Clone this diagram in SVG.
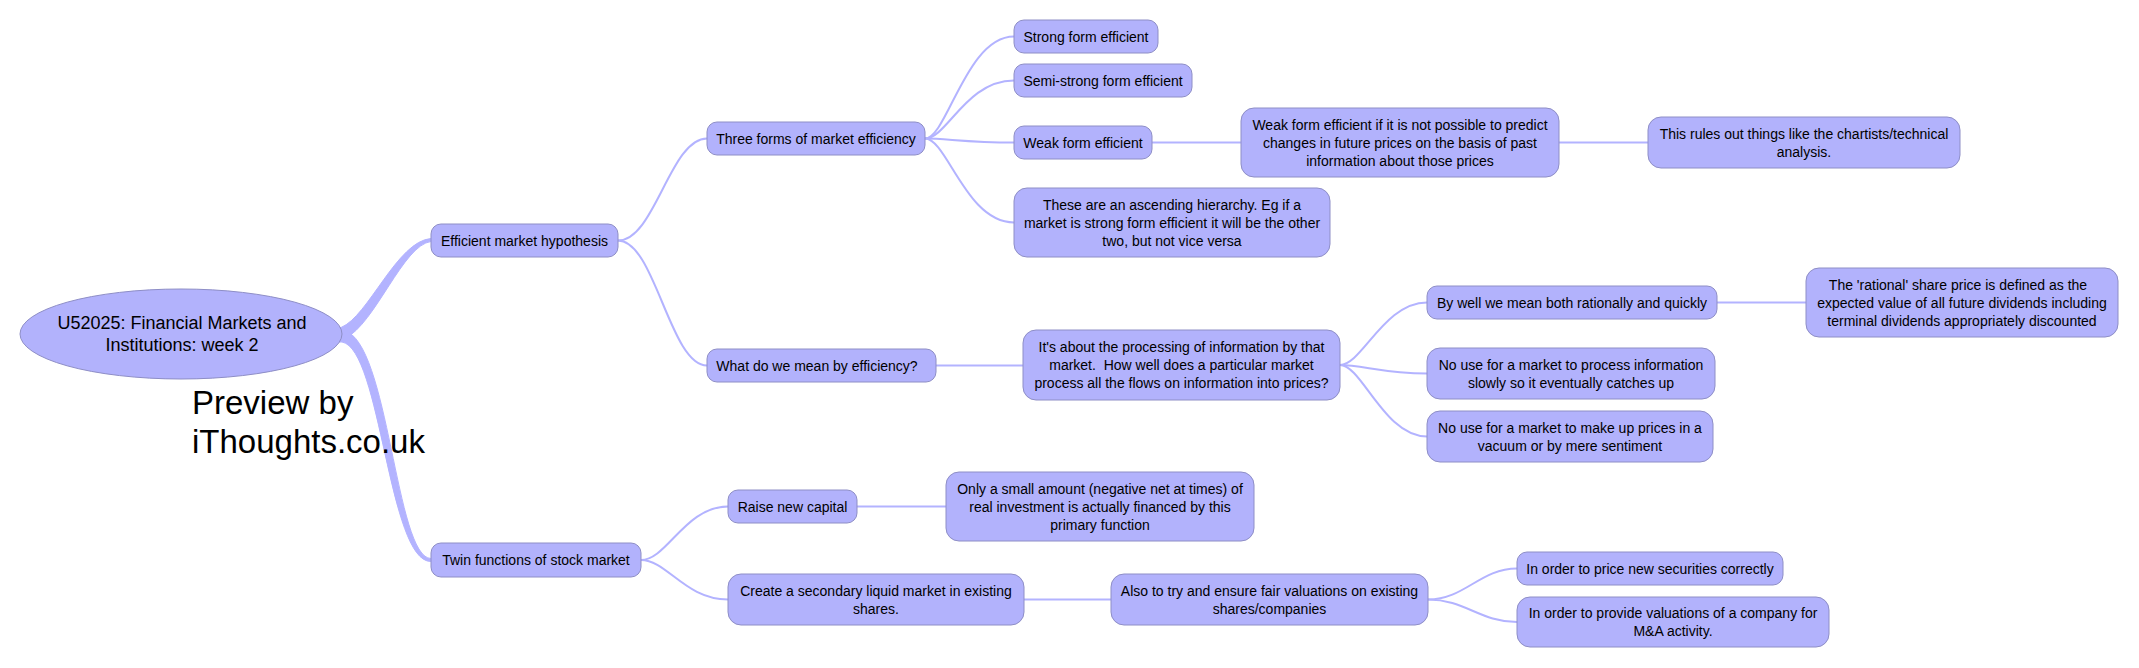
<svg xmlns="http://www.w3.org/2000/svg" width="2139" height="668" viewBox="0 0 2139 668">
<style>
.node rect, .node ellipse { fill:#b2b2fc; stroke:#8e8ec6; stroke-width:1; }
.node text { font-family:"Liberation Sans", Arial, Helvetica, sans-serif; font-size:14px; fill:#000; text-anchor:middle; }
.node.root text { font-size:18px; }
.conn { fill:none; stroke:#b3b3ff; stroke-width:2; }
.band { fill:#b3b3ff; stroke:#b3b3ff; stroke-width:1; stroke-linejoin:round; }
.wm { font-family:"Liberation Sans", Arial, Helvetica, sans-serif; font-size:33px; fill:#000; }
</style>
<rect width="2139" height="668" fill="#fff"/>
<g id="connectors">
  <path class="band" d="M336,327 L341,327.5 C368.5,316.5 397,241 431,238.5 L431,241.5 C403,245 375.5,323.5 345,338.5 L336,339 Z"/>
  <path class="band" d="M336,331 L344,330.5 C389,341 395.5,558 431,558.5 L431,561.5 C388.5,562 381,349 342,342 L336,342 Z"/>
  <path class="conn" d="M618,240.5 C655,240.5 670,138.5 707,138.5"/>
  <path class="conn" d="M618,240.5 C655,240.5 670,365.5 707,365.5"/>
  <path class="conn" d="M925,138.5 C947,138.5 966,36.5 1014,36.5"/>
  <path class="conn" d="M925,138.5 C947,138.5 966,80.5 1014,80.5"/>
  <path class="conn" d="M925,138.5 C947,138.5 966,142.5 1014,142.5"/>
  <path class="conn" d="M925,138.5 C947,138.5 966,222.5 1014,222.5"/>
  <path class="conn" d="M1152,142.5 L1241,142.5"/>
  <path class="conn" d="M1559,142.5 L1648,142.5"/>
  <path class="conn" d="M936,365.5 L1023,365.5"/>
  <path class="conn" d="M1340,365 C1362,365 1384,302.5 1427,302.5"/>
  <path class="conn" d="M1340,365 C1362,365 1384,373.5 1427,373.5"/>
  <path class="conn" d="M1340,365 C1362,365 1384,436.5 1427,436.5"/>
  <path class="conn" d="M1717,302.5 L1806,302.5"/>
  <path class="conn" d="M641,560 C667,560 685,506.5 728,506.5"/>
  <path class="conn" d="M641,560 C667,560 685,599.5 728,599.5"/>
  <path class="conn" d="M857,506.5 L946,506.5"/>
  <path class="conn" d="M1024,599.5 L1111,599.5"/>
  <path class="conn" d="M1428,599.5 C1465,599.5 1480,568.5 1517,568.5"/>
  <path class="conn" d="M1428,599.5 C1465,599.5 1480,622 1517,622"/>
</g>
<g id="root" class="node root">
  <ellipse cx="181" cy="334" rx="161" ry="45"/>
  <text x="182" y="329">U52025: Financial Markets and</text>
  <text x="182" y="351">Institutions: week 2</text>
</g>
<g id="efficient" class="node">
  <rect x="431" y="224" width="187" height="33" rx="10"/>
  <text x="524.5" y="245.5">Efficient market hypothesis</text>
</g>
<g id="twin" class="node">
  <rect x="431" y="543" width="210" height="34" rx="10"/>
  <text x="536" y="565">Twin functions of stock market</text>
</g>
<g id="three-forms" class="node">
  <rect x="707" y="122" width="218" height="33" rx="10"/>
  <text x="816" y="143.5">Three forms of market efficiency</text>
</g>
<g id="strong" class="node">
  <rect x="1014" y="20" width="144" height="33" rx="10"/>
  <text x="1086" y="41.5">Strong form efficient</text>
</g>
<g id="semi" class="node">
  <rect x="1014" y="64" width="178" height="33" rx="10"/>
  <text x="1103" y="85.5">Semi-strong form efficient</text>
</g>
<g id="weak" class="node">
  <rect x="1014" y="126" width="138" height="33" rx="10"/>
  <text x="1083" y="147.5">Weak form efficient</text>
</g>
<g id="hierarchy" class="node">
  <rect x="1014" y="188" width="316" height="69" rx="13"/>
  <text x="1172" y="209.5">These are an ascending hierarchy. Eg if a</text>
  <text x="1172" y="227.5">market is strong form efficient it will be the other</text>
  <text x="1172" y="245.5">two, but not vice versa</text>
</g>
<g id="weak-detail" class="node">
  <rect x="1241" y="108" width="318" height="69" rx="13"/>
  <text x="1400" y="129.5">Weak form efficient if it is not possible to predict</text>
  <text x="1400" y="147.5">changes in future prices on the basis of past</text>
  <text x="1400" y="165.5">information about those prices</text>
</g>
<g id="chartists" class="node">
  <rect x="1648" y="117" width="312" height="51" rx="13"/>
  <text x="1804" y="138.5">This rules out things like the chartists/technical</text>
  <text x="1804" y="156.5">analysis.</text>
</g>
<g id="what-efficiency" class="node">
  <rect x="707" y="349" width="229" height="33" rx="10"/>
  <text x="817" y="370.5">What do we mean by efficiency?</text>
</g>
<g id="processing" class="node">
  <rect x="1023" y="330" width="317" height="70" rx="13"/>
  <text x="1181.5" y="352">It's about the processing of information by that</text>
  <text x="1181.5" y="370" xml:space="preserve">market.  How well does a particular market</text>
  <text x="1181.5" y="388">process all the flows on information into prices?</text>
</g>
<g id="by-well" class="node">
  <rect x="1427" y="286" width="290" height="33" rx="10"/>
  <text x="1572" y="307.5">By well we mean both rationally and quickly</text>
</g>
<g id="rational" class="node">
  <rect x="1806" y="268" width="312" height="69" rx="13"/>
  <text x="1958" y="289.5">The 'rational' share price is defined as the</text>
  <text x="1962" y="307.5">expected value of all future dividends including</text>
  <text x="1962" y="325.5">terminal dividends appropriately discounted</text>
</g>
<g id="slowly" class="node">
  <rect x="1427" y="348" width="288" height="51" rx="13"/>
  <text x="1571" y="369.5">No use for a market to process information</text>
  <text x="1571" y="387.5">slowly so it eventually catches up</text>
</g>
<g id="vacuum" class="node">
  <rect x="1427" y="411" width="286" height="51" rx="13"/>
  <text x="1570" y="432.5">No use for a market to make up prices in a</text>
  <text x="1570" y="450.5">vacuum or by mere sentiment</text>
</g>
<g id="raise" class="node">
  <rect x="728" y="490" width="129" height="33" rx="10"/>
  <text x="792.5" y="511.5">Raise new capital</text>
</g>
<g id="small-amount" class="node">
  <rect x="946" y="472" width="308" height="69" rx="13"/>
  <text x="1100" y="493.5">Only a small amount (negative net at times) of</text>
  <text x="1100" y="511.5">real investment is actually financed by this</text>
  <text x="1100" y="529.5">primary function</text>
</g>
<g id="secondary" class="node">
  <rect x="728" y="574" width="296" height="51" rx="13"/>
  <text x="876" y="595.5">Create a secondary liquid market in existing</text>
  <text x="876" y="613.5">shares.</text>
</g>
<g id="fair-valuations" class="node">
  <rect x="1111" y="574" width="317" height="51" rx="13"/>
  <text x="1269.5" y="595.5">Also to try and ensure fair valuations on existing</text>
  <text x="1269.5" y="613.5">shares/companies</text>
</g>
<g id="price-new" class="node">
  <rect x="1517" y="552" width="266" height="33" rx="10"/>
  <text x="1650" y="573.5">In order to price new securities correctly</text>
</g>
<g id="ma-activity" class="node">
  <rect x="1517" y="597" width="312" height="50" rx="13"/>
  <text x="1673" y="618">In order to provide valuations of a company for</text>
  <text x="1673" y="636">M&amp;A activity.</text>
</g>
<g id="watermark">
  <text class="wm" x="192" y="414">Preview by</text>
  <text class="wm" x="192" y="453">iThoughts.co.uk</text>
</g>
</svg>
